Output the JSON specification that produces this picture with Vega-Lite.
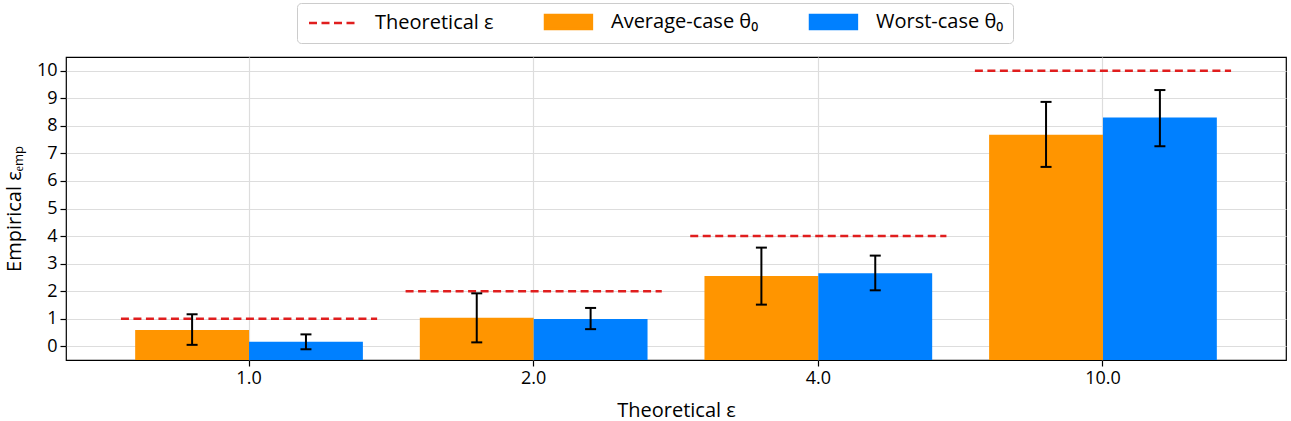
{
  "$schema": "https://vega.github.io/schema/vega-lite/v6.json",
  "autosize": {"type": "none"},
  "padding": {"left": 66, "top": 57, "right": 5, "bottom": 61},
  "width": 1220,
  "height": 303,
  "background": "white",
  "datasets": {
    "bars": [
      {"eps": "1.0", "series": "Average-case θ₀", "mean": 0.59, "lo": 0.05, "hi": 1.16},
      {"eps": "1.0", "series": "Worst-case θ₀", "mean": 0.16, "lo": -0.11, "hi": 0.43},
      {"eps": "2.0", "series": "Average-case θ₀", "mean": 1.03, "lo": 0.14, "hi": 1.92},
      {"eps": "2.0", "series": "Worst-case θ₀", "mean": 0.99, "lo": 0.62, "hi": 1.39},
      {"eps": "4.0", "series": "Average-case θ₀", "mean": 2.55, "lo": 1.51, "hi": 3.58},
      {"eps": "4.0", "series": "Worst-case θ₀", "mean": 2.65, "lo": 2.03, "hi": 3.29},
      {"eps": "10.0", "series": "Average-case θ₀", "mean": 7.68, "lo": 6.51, "hi": 8.87},
      {"eps": "10.0", "series": "Worst-case θ₀", "mean": 8.30, "lo": 7.26, "hi": 9.30}
    ],
    "theory": [
      {"eps": "1.0", "theo": 1},
      {"eps": "2.0", "theo": 2},
      {"eps": "4.0", "theo": 4},
      {"eps": "10.0", "theo": 10}
    ]
  },
  "encoding": {
    "x": {
      "field": "eps",
      "type": "ordinal",
      "sort": ["1.0", "2.0", "4.0", "10.0"],
      "scale": {"paddingInner": 0.2, "paddingOuter": 0.243},
      "axis": {
        "title": "Theoretical ε",
        "labelAngle": 0,
        "grid": true,
        "bandPosition": 0.5,
        "titlePadding": 13
      }
    }
  },
  "layer": [
    {
      "data": {"name": "bars"},
      "mark": {"type": "bar"},
      "encoding": {
        "xOffset": {
          "field": "series",
          "type": "nominal",
          "scale": {"domain": ["Average-case θ₀", "Worst-case θ₀"], "paddingInner": 0, "paddingOuter": 0}
        },
        "y": {
          "field": "mean",
          "type": "quantitative",
          "scale": {"domain": [-0.5, 10.5], "nice": false, "zero": false},
          "axis": {"title": "Empirical εₑₘₚ", "values": [0, 1, 2, 3, 4, 5, 6, 7, 8, 9, 10], "labelOverlap": false, "titlePadding": 12}
        },
        "y2": {"datum": -0.5},
        "color": {
          "field": "series",
          "type": "nominal",
          "scale": {
            "domain": ["Theoretical ε", "Average-case θ₀", "Worst-case θ₀"],
            "range": ["#e01e1e", "#ff9500", "#0080ff"]
          },
          "legend": {
            "orient": "none",
            "legendX": 231,
            "legendY": -54,
            "direction": "horizontal",
            "columns": 3,
            "title": null,
            "symbolSize": 196,
            "labelFontSize": 20,
            "labelOffset": 49,
            "columnPadding": 46,
            "padding": 9,
            "strokeColor": "#cccccc",
            "fillColor": "white",
            "cornerRadius": 4,
            "encode": {
              "symbols": {
                "update": {
                  "shape": {"signal": "datum.value === 'Theoretical ε' ? 'M-1,0H5.7' : 'M-1,-1H5.7V1H-1Z'"},
                  "fill": {"signal": "datum.value === 'Theoretical ε' ? 'transparent' : scale('color', datum.value)"},
                  "stroke": {"signal": "datum.value === 'Theoretical ε' ? scale('color', datum.value) : 'transparent'"},
                  "strokeDash": {"signal": "datum.value === 'Theoretical ε' ? [8, 4.5] : [1, 0]"},
                  "strokeWidth": {"value": 2.5},
                  "opacity": {"value": 1}
                }
              }
            }
          }
        }
      }
    },
    {
      "data": {"name": "theory"},
      "mark": {"type": "rule", "strokeDash": [8, 4.5], "strokeWidth": 2.5},
      "encoding": {
        "x": {"field": "eps", "type": "ordinal", "sort": ["1.0", "2.0", "4.0", "10.0"], "bandPosition": -0.0625},
        "x2": {"field": "eps", "bandPosition": 1.0625},
        "y": {
          "field": "theo",
          "type": "quantitative",
          "axis": {"title": "Empirical εₑₘₚ", "values": [0, 1, 2, 3, 4, 5, 6, 7, 8, 9, 10], "labelOverlap": false, "titlePadding": 12}
        },
        "color": {"datum": "Theoretical ε"}
      }
    },
    {
      "data": {"name": "bars"},
      "mark": {"type": "rule", "color": "black", "strokeWidth": 2},
      "encoding": {
        "xOffset": {"field": "series", "type": "nominal"},
        "y": {
          "field": "lo",
          "type": "quantitative",
          "axis": {"title": "Empirical εₑₘₚ", "values": [0, 1, 2, 3, 4, 5, 6, 7, 8, 9, 10], "labelOverlap": false, "titlePadding": 12}
        },
        "y2": {"field": "hi"}
      }
    },
    {
      "data": {"name": "bars"},
      "mark": {"type": "tick", "color": "black", "thickness": 2, "size": 11, "opacity": 1},
      "encoding": {
        "xOffset": {"field": "series", "type": "nominal"},
        "y": {
          "field": "lo",
          "type": "quantitative",
          "axis": {"title": "Empirical εₑₘₚ", "values": [0, 1, 2, 3, 4, 5, 6, 7, 8, 9, 10], "labelOverlap": false, "titlePadding": 12}
        }
      }
    },
    {
      "data": {"name": "bars"},
      "mark": {"type": "tick", "color": "black", "thickness": 2, "size": 11, "opacity": 1},
      "encoding": {
        "xOffset": {"field": "series", "type": "nominal"},
        "y": {
          "field": "hi",
          "type": "quantitative",
          "axis": {"title": "Empirical εₑₘₚ", "values": [0, 1, 2, 3, 4, 5, 6, 7, 8, 9, 10], "labelOverlap": false, "titlePadding": 12}
        }
      }
    }
  ],
  "config": {
    "font": "Open Sans",
    "view": {"stroke": "black", "strokeWidth": 1.2},
    "axis": {
      "domain": false,
      "gridColor": "#dddddd",
      "gridWidth": 1.2,
      "tickColor": "black",
      "tickSize": 6,
      "tickWidth": 1.2,
      "labelFontSize": 18,
      "labelColor": "black",
      "labelPadding": 3,
      "titleFontSize": 20,
      "titleFontWeight": "normal",
      "titleColor": "black"
    },
    "legend": {"labelColor": "black", "labelFont": "Open Sans"}
  }
}
